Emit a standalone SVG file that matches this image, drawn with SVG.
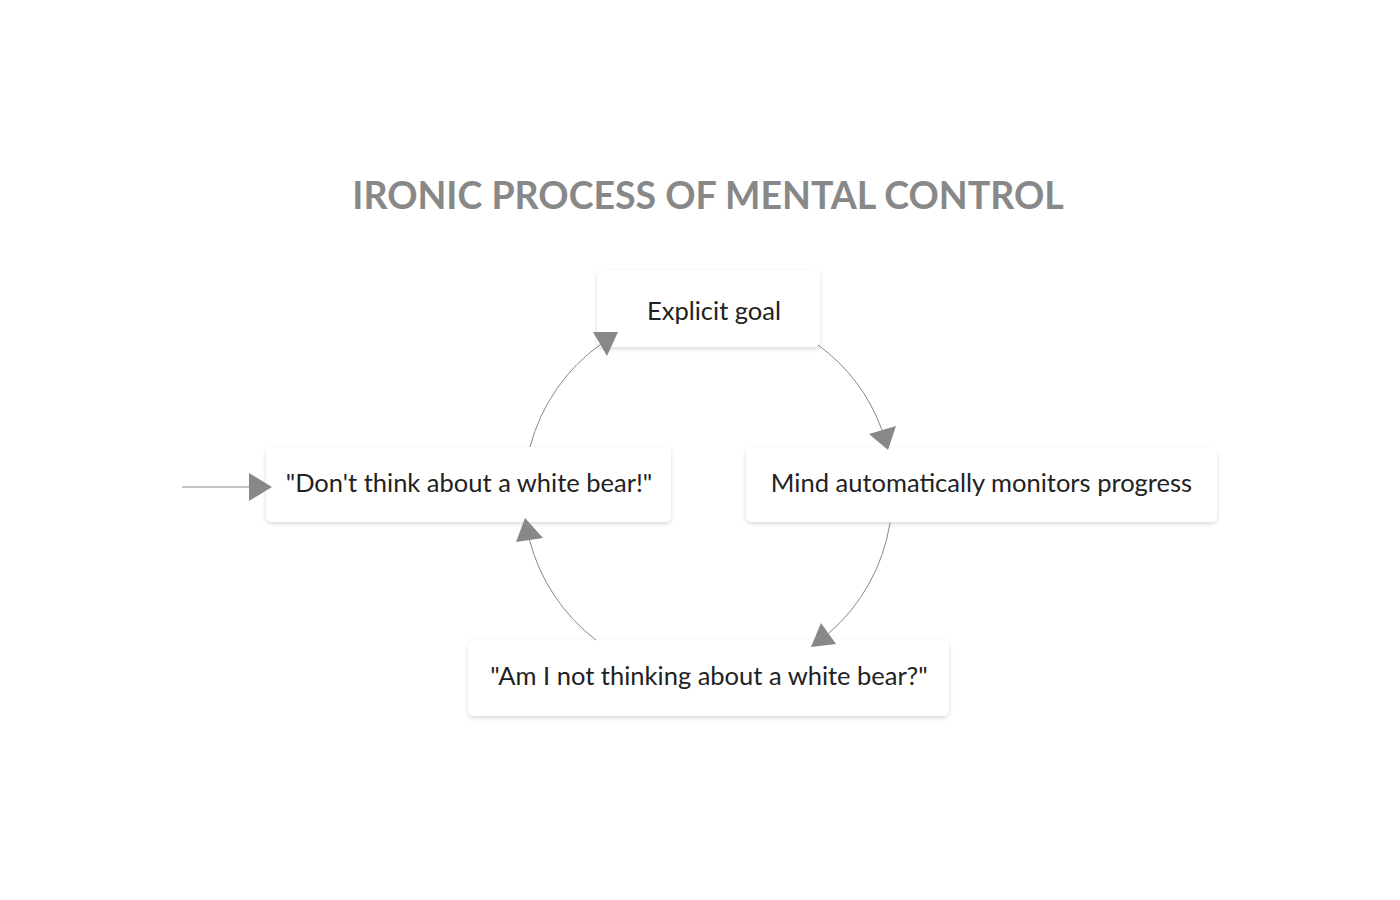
<svg xmlns="http://www.w3.org/2000/svg" width="1400" height="900" viewBox="0 0 1400 900">
  <defs>
    <style>
      .title { font-family: Lato, "Liberation Sans", sans-serif; font-weight: 700; font-size: 37.5px; fill: #888888; }
      .box { fill: #ffffff; filter: url(#shadow); }
      .label { font-family: Lato, "Liberation Sans", sans-serif; font-weight: 400; font-size: 25.5px; fill: #222222; }
      .edge { fill: none; stroke: #888888; stroke-width: 1; }
      .head { fill: #888888; stroke: none; }
    </style>
    <filter id="shadow" x="-10%" y="-20%" width="120%" height="150%">
      <feDropShadow dx="0" dy="2" stdDeviation="2" flood-color="#000000" flood-opacity="0.15"/>
    </filter>
  </defs>
  <rect width="1400" height="900" fill="#ffffff"/>
  <text class="title" x="708" y="209" text-anchor="middle">IRONIC PROCESS OF MENTAL CONTROL</text>

  <g id="node-explicit-goal">
    <rect class="box" x="597" y="270" width="223" height="77" rx="6"/>
    <text class="label" x="714" y="320" text-anchor="middle">Explicit goal</text>
  </g>
  <g id="node-dont-think">
    <rect class="box" x="266" y="447" width="405" height="75" rx="6"/>
    <text class="label" x="469" y="492" text-anchor="middle">"Don't think about a white bear!"</text>
  </g>
  <g id="node-monitor">
    <rect class="box" x="746" y="447" width="471" height="75" rx="6"/>
    <text class="label" x="981.5" y="492" text-anchor="middle">Mind automatically monitors progress</text>
  </g>
  <g id="node-am-i">
    <rect class="box" x="468" y="640" width="481" height="76" rx="6"/>
    <text class="label" x="709" y="685" text-anchor="middle">"Am I not thinking about a white bear?"</text>
  </g>

  <g id="connectors">
    <line class="edge" x1="182" y1="487" x2="250" y2="487"/>
    <polygon class="head" points="249,473 249,501 272,487"/>
    <path class="edge" d="M818,345 A184,184 0 0 1 882,430"/>
    <polygon class="head" points="869,434 896,426 888,450"/>
    <path class="edge" d="M890,523 A184,184 0 0 1 828.5,633.5"/>
    <polygon class="head" points="821,623 836,644 811,647"/>
    <path class="edge" d="M596,640 A184,184 0 0 1 529.5,540"/>
    <polygon class="head" points="525,518 516,542 543,538"/>
    <path class="edge" d="M530,447 A184,184 0 0 1 601,344"/>
    <polygon class="head" points="593,332 618,332 607,356"/>
  </g>
</svg>
